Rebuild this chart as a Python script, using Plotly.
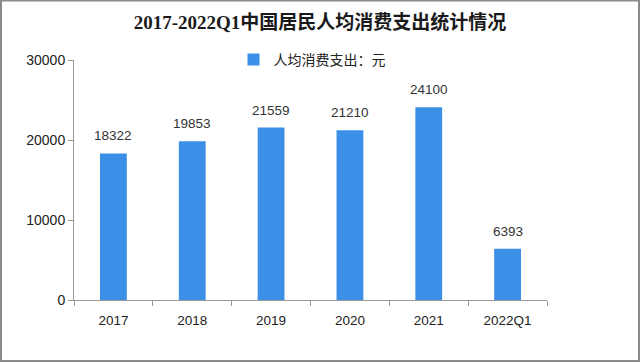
import plotly.graph_objects as go

categories = ["2017", "2018", "2019", "2020", "2021", "2022Q1"]
values = [18322, 19853, 21559, 21210, 24100, 6393]
series_name = "人均消费支出：元"
title_text = "2017-2022Q1中国居民人均消费支出统计情况"

W, H = 640, 363
ml, mr, mt, mb = 74, 93, 60, 63
pw = W - ml - mr
ph = H - mt - mb

fig = go.Figure()
fig.add_trace(go.Bar(
    x=categories, y=values, name=series_name,
    marker=dict(color="#3b8fe7", line=dict(width=0)),
    width=0.34,
    showlegend=True,
))

# data labels: positioned by category index on the category axis
for i, v in enumerate(values):
    fig.add_annotation(x=i, y=v, text=str(v), showarrow=False,
                       xanchor="center", yanchor="bottom", yshift=8,
                       font=dict(family="Liberation Sans, Arial", size=13.5,
                                 color="#333333"))

fig.update_layout(
    width=W, height=H,
    margin=dict(l=ml, r=mr, t=mt, b=mb, pad=0, autoexpand=False),
    paper_bgcolor="white", plot_bgcolor="white",
    title=dict(text="<b>" + title_text + "</b>", x=0.5, xanchor="center",
               y=1 - 22 / H, yanchor="middle", xref="container", yref="container",
               font=dict(family="Liberation Serif, Noto Sans CJK SC", size=19,
                         color="#1a1a1a")),
    legend=dict(orientation="h", x=(312 - ml) / pw, xanchor="center", xref="paper",
                y=1.0, yanchor="middle", yref="paper",
                font=dict(family="Noto Sans CJK SC", size=14, color="#222222"),
                bgcolor="rgba(0,0,0,0)"),
    xaxis=dict(type="category", categoryorder="array", categoryarray=categories,
               range=[-0.5, len(categories) - 0.5],
               showline=True, linecolor="#999999", linewidth=1,
               ticks="outside", tickson="boundaries", ticklen=5, tickcolor="#999999",
               ticklabelstandoff=8,
               tickfont=dict(family="Liberation Sans, Arial", size=13.5, color="#222222"),
               showgrid=False),
    yaxis=dict(range=[0, 30000], dtick=10000, tickformat="d", showline=True,
               linecolor="#999999", linewidth=1, ticks="outside", ticklen=5,
               tickcolor="#999999",
               tickfont=dict(family="Liberation Sans, Arial", size=14, color="#222222"),
               showgrid=False, zeroline=False),
    shapes=[dict(type="rect", xref="paper", yref="paper",
                 x0=(1 - ml) / pw, x1=1 + (mr - 1) / pw,
                 y0=-(mb - 2) / ph, y1=1 + (mt - 0.5) / ph,
                 line=dict(color="#8a8a8a", width=2), fillcolor="rgba(0,0,0,0)",
                 layer="below")],
)

fig.write_html("out.html", config={"displayModeBar": False},
               post_script="document.body.style.margin='0';")
